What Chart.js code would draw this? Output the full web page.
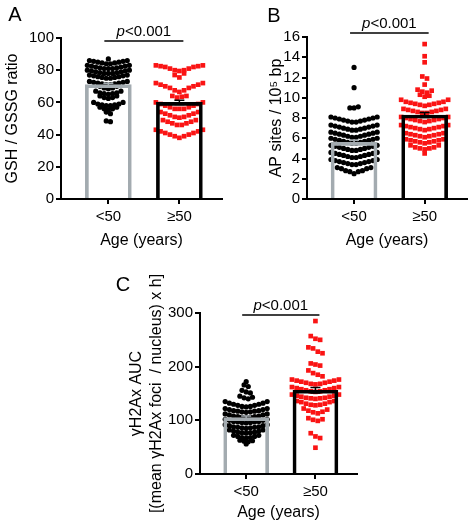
<!DOCTYPE html>
<html>
<head>
<meta charset="utf-8">
<script src="https://cdn.jsdelivr.net/npm/chart.js@4.4.1/dist/chart.umd.min.js"></script>
<style>
    body { margin: 0; background: #fff; }
    #wrap { position: relative; width: 474px; height: 531px; overflow: hidden; }
    canvas { position: absolute; }
</style>
</head>
<body>
<div id="wrap">
    <canvas id="chartA" style="left:0;top:0;width:237px;height:265px"></canvas>
    <canvas id="chartB" style="left:237px;top:0;width:237px;height:265px"></canvas>
    <canvas id="chartC" style="left:100px;top:265px;width:274px;height:266px"></canvas>
</div>
<script>
const groups = ["<50", "≥50"];
const groupX = [1, 2.5];

// A: GSH / GSSG ratio, one inner array per row of dots (left to right)
const gshYoung = [
    [87],
    [86, 85.5, 85, 84.5, 84, 84, 84.5, 85, 85.5, 86],
    [83, 82.5, 82, 81.5, 81, 81, 81, 81.5, 82, 82.5, 83],
    [80, 79.5, 79, 78.5, 78, 78, 78, 78.5, 79, 79.5, 80],
    [77, 76.5, 76, 75.5, 75, 75, 75.5, 76, 76.5, 77],
    [73, 72.5, 72, 71.5, 71, 71, 71.5, 72, 72.5, 73],
    [70, 69, 68.5, 69, 70],
    [67, 66, 65.5, 65, 65.5, 66, 67],
    [64, 63, 62.5, 63, 64],
    [60, 59, 58.5, 58, 58, 58.5, 59, 60],
    [57, 56, 55.5, 56, 57],
    [54, 53],
    [48.5, 48]
];
const gshOld = [
    [83, 82.5, 82, 81, 80, 79.5, 80, 81, 82, 82.5, 83],
    [77, 75.5, 78],
    [72, 71, 70, 69, 67.5, 66.5, 67.5, 69, 70, 71, 72],
    [64, 63, 63.5, 64],
    [60, 59, 58, 57, 56, 56, 56, 57, 58, 59, 60],
    [54, 53, 52, 51, 50.5, 51, 52, 53, 54],
    [49, 48, 47, 46, 46, 47, 48, 49],
    [43, 42, 41, 40, 39, 38, 39, 40, 41, 42, 43]
];
const gshMean = [71, 60];
const gshSem = [0.9, 1.3];
const gshTicks = [0, 20, 40, 60, 80, 100];

// B: AP sites / 10^5 bp
const apYoung = [
    [13],
    [11],
    [9, 9, 9.1],
    [8.1, 8, 7.9, 7.8, 7.7, 7.6, 7.6, 7.7, 7.8, 7.9, 8, 8.1],
    [7.3, 7.2, 7.1, 7, 6.9, 6.8, 6.8, 6.9, 7, 7.1, 7.2, 7.3],
    [6.6, 6.5, 6.4, 6.3, 6.2, 6.1, 6.1, 6.2, 6.3, 6.4, 6.5, 6.6],
    [6, 5.9, 5.8, 5.7, 5.6, 5.5, 5.5, 5.6, 5.7, 5.8, 5.9, 6],
    [5.3, 5.2, 5.1, 5, 4.9, 4.8, 4.8, 4.9, 5, 5.1, 5.2, 5.3],
    [4.6, 4.5, 4.4, 4.3, 4.2, 4.1, 4.1, 4.2, 4.3, 4.4, 4.5, 4.6],
    [3.9, 3.8, 3.7, 3.6, 3.5, 3.4, 3.4, 3.5, 3.6, 3.7, 3.8, 3.9],
    [3.1, 3, 2.8, 2.7, 2.5, 2.7, 2.8, 3, 3.1]
];
const apOld = [
    [15.3],
    [14.1],
    [13.5],
    [12.1, 11.9],
    [11.3],
    [10.8, 10.6, 10.5, 10.7],
    [10.3, 10.1, 10.2],
    [9.8, 9.6, 9.5, 9.4, 9.3, 9.2, 9.3, 9.4, 9.5, 9.6, 9.8],
    [8.9, 8.8, 8.7, 8.6, 8.5, 8.5, 8.6, 8.7, 8.8, 8.9],
    [8.1, 8, 7.9, 7.8, 7.7, 7.6, 7.7, 7.8, 7.9, 8, 8.1],
    [7.3, 7.2, 7.1, 7, 6.9, 6.8, 6.9, 7, 7.1, 7.2, 7.3],
    [6.5, 6.4, 6.3, 6.2, 6.1, 6.2, 6.3, 6.4, 6.5],
    [5.9, 5.8, 5.7, 5.6, 5.5, 5.6, 5.7, 5.8, 5.9],
    [5.3, 5.1, 5, 4.9, 5, 5.1, 5.3],
    [4.5]
];
const apMean = [5.6, 8.3];
const apSem = [0.2, 0.25];
const apTicks = [0, 2, 4, 6, 8, 10, 12, 14, 16];

// C: gammaH2Ax AUC
const h2axYoung = [
    [172],
    [166, 163],
    [156, 153, 151],
    [145, 142, 140, 143],
    [135, 132, 130, 128, 126, 125, 126, 128, 130, 132, 135],
    [122, 120, 118, 117, 116, 115, 116, 117, 118, 120, 122],
    [112, 110, 108, 107, 106, 105, 106, 107, 108, 110, 112],
    [102, 100, 98, 97, 96, 95, 96, 97, 98, 100, 102],
    [92, 90, 88, 87, 86, 85, 86, 87, 88, 90, 92],
    [82, 80, 78, 77, 76, 77, 78, 80, 82],
    [72, 70, 68, 67, 68, 70, 72],
    [63, 61, 60, 62],
    [56]
];
const h2axOld = [
    [285],
    [257, 252, 250],
    [236, 234, 228, 225],
    [206, 204, 202],
    [193, 188, 185, 182],
    [176, 174, 172, 170, 168, 167, 168, 170, 172, 174, 176],
    [162, 160, 158, 156, 154, 153, 154, 156, 158, 160, 162],
    [148, 146, 144, 142, 141, 140, 141, 142, 144, 146, 148],
    [136, 134, 131, 129, 128, 129, 131, 134, 136],
    [122, 118, 115, 113, 116, 120],
    [104, 101, 99, 102],
    [76, 70, 67],
    [49]
];
const h2axMean = [105, 156];
const h2axSem = [3, 5];
const h2axTicks = [0, 100, 200, 300];

const FONT = "'Liberation Sans', Arial, sans-serif";
const GREY = "#a3abb0";
const RED = "#fa1414";
const X_MAX = 3.4;

Chart.defaults.font.family = FONT;
Chart.defaults.color = "#000";

// rows of dots spread side by side around the group centre
function swarm(rows, center, pitch) {
    const pts = [];
    rows.forEach(function (row) {
        row.forEach(function (v, k) {
            pts.push({ x: center + (k - (row.length - 1) / 2) * pitch, y: v });
        });
    });
    return pts;
}

const extras = {
    id: "extras",
    afterDatasetsDraw(chart, args, opts) {
        const ctx = chart.ctx;
        const xs = chart.scales.x;
        const ys = chart.scales.y;
        ctx.save();

        // mean +/- SEM
        opts.mean.forEach(function (m, i) {
            const px = xs.getPixelForValue(groupX[i]);
            const top = ys.getPixelForValue(m + opts.sem[i]);
            const bot = ys.getPixelForValue(m - opts.sem[i]);
            ctx.strokeStyle = opts.colors[i];
            ctx.lineWidth = 1.5;
            ctx.beginPath();
            ctx.moveTo(px, top);
            ctx.lineTo(px, bot);
            ctx.moveTo(px - 5, top);
            ctx.lineTo(px + 5, top);
            ctx.moveTo(px - 5, bot);
            ctx.lineTo(px + 5, bot);
            ctx.stroke();
        });

        // significance bar
        const ly = chart.chartArea.top + opts.sigOffset;
        const x1 = xs.getPixelForValue(groupX[0]) - 4;
        const x2 = xs.getPixelForValue(groupX[1]) + 4;
        ctx.strokeStyle = "#000";
        ctx.lineWidth = 1.5;
        ctx.beginPath();
        ctx.moveTo(x1, ly);
        ctx.lineTo(x2, ly);
        ctx.stroke();

        ctx.fillStyle = "#000";
        ctx.textBaseline = "alphabetic";
        ctx.textAlign = "left";
        ctx.font = "italic 15px " + FONT;
        const pw = ctx.measureText("p").width;
        ctx.font = "15px " + FONT;
        const rw = ctx.measureText("<0.001").width;
        const sx = (x1 + x2) / 2 - (pw + rw) / 2;
        ctx.font = "italic 15px " + FONT;
        ctx.fillText("p", sx, ly - 5.5);
        ctx.font = "15px " + FONT;
        ctx.fillText("<0.001", sx + pw, ly - 5.5);

        // panel letter
        ctx.font = "20px " + FONT;
        ctx.textAlign = "center";
        ctx.textBaseline = "middle";
        ctx.fillText(opts.letter, opts.letterX, opts.letterY);
        ctx.restore();
    }
};

function makePanel(id, cfg) {
    const canvas = document.getElementById(id);
    const plotW = cfg.width - cfg.yAxisW - cfg.padRight;
    const dotPitch = 4.2 * X_MAX / plotW;
    const squarePitch = 4.7 * X_MAX / plotW;

    new Chart(canvas, {
        type: "bar",
        data: {
            datasets: [
                {
                    type: "bar",
                    data: cfg.mean.map(function (m, i) { return { x: groupX[i], y: m }; }),
                    backgroundColor: "rgba(0,0,0,0)",
                    borderColor: [GREY, "#000"],
                    borderWidth: 3,
                    barThickness: cfg.barW,
                    order: 0
                },
                {
                    type: "scatter",
                    data: swarm(cfg.young, groupX[0], dotPitch),
                    pointStyle: "circle",
                    pointRadius: 2.6,
                    backgroundColor: "#000",
                    borderWidth: 0,
                    order: 2
                },
                {
                    type: "scatter",
                    data: swarm(cfg.old, groupX[1], squarePitch),
                    pointStyle: "rect",
                    pointRadius: 3.3,
                    backgroundColor: RED,
                    borderWidth: 0,
                    order: 1
                }
            ]
        },
        options: {
            responsive: false,
            animation: false,
            events: [],
            layout: { padding: { left: 0, top: cfg.padTop, right: cfg.padRight, bottom: 0 } },
            plugins: {
                legend: { display: false },
                tooltip: { enabled: false },
                extras: {
                    mean: cfg.mean,
                    sem: cfg.sem,
                    colors: [GREY, "#000"],
                    sigOffset: cfg.sigOffset,
                    letter: cfg.letter,
                    letterX: cfg.letterX,
                    letterY: cfg.letterY
                }
            },
            scales: {
                x: {
                    type: "linear",
                    min: 0,
                    max: X_MAX,
                    offset: false,
                    afterBuildTicks: function (axis) {
                        axis.ticks = groupX.map(function (v) { return { value: v }; });
                    },
                    afterFit: function (axis) { axis.height = cfg.xAxisH; },
                    ticks: {
                        callback: function (v) { return groups[groupX.indexOf(v)]; },
                        font: { size: 15 },
                        padding: 4,
                        maxRotation: 0,
                        autoSkip: false
                    },
                    grid: { offset: false, drawOnChartArea: false, color: "#000", lineWidth: 2, tickLength: 5 },
                    border: { color: "#000", width: 2 },
                    title: { display: true, text: "Age (years)", font: { size: 16 }, padding: { top: 0, bottom: cfg.xTitlePad } }
                },
                y: {
                    type: "linear",
                    min: 0,
                    max: cfg.yTicks[cfg.yTicks.length - 1],
                    afterBuildTicks: function (axis) {
                        axis.ticks = cfg.yTicks.map(function (v) { return { value: v }; });
                    },
                    afterFit: function (axis) { axis.width = cfg.yAxisW; },
                    ticks: { font: { size: 15 }, padding: 2, autoSkip: false },
                    grid: { drawOnChartArea: false, color: "#000", lineWidth: 2, tickLength: 5 },
                    border: { color: "#000", width: 2 },
                    title: { display: true, text: cfg.yTitle, font: { size: 16 }, padding: { top: cfg.yTitlePad, bottom: 0 } }
                }
            }
        },
        plugins: [extras]
    });
}

makePanel("chartA", {
    width: 237, yAxisW: 61, xAxisH: 66, padTop: 38, padRight: 15,
    yTitlePad: 3.4, xTitlePad: 15, barW: 46, sigOffset: 3,
    letter: "A", letterX: 15, letterY: 15,
    yTitle: "GSH / GSSG ratio", yTicks: gshTicks,
    young: gshYoung, old: gshOld, mean: gshMean, sem: gshSem
});

makePanel("chartB", {
    width: 237, yAxisW: 70, xAxisH: 66, padTop: 37, padRight: 7,
    yTitlePad: 30, xTitlePad: 15, barW: 46, sigOffset: -4,
    letter: "B", letterX: 37, letterY: 16,
    yTitle: "AP sites / 10⁵ bp", yTicks: apTicks,
    young: apYoung, old: apOld, mean: apMean, sem: apSem
});

makePanel("chartC", {
    width: 274, yAxisW: 100, xAxisH: 57, padTop: 48, padRight: 17,
    yTitlePad: 27.4, xTitlePad: 9, barW: 45, sigOffset: 2,
    letter: "C", letterX: 23, letterY: 20,
    yTitle: ["γH2Ax AUC", "[(mean γH2Ax foci  / nucleus) x h]"], yTicks: h2axTicks,
    young: h2axYoung, old: h2axOld, mean: h2axMean, sem: h2axSem
});
</script>
</body>
</html>
